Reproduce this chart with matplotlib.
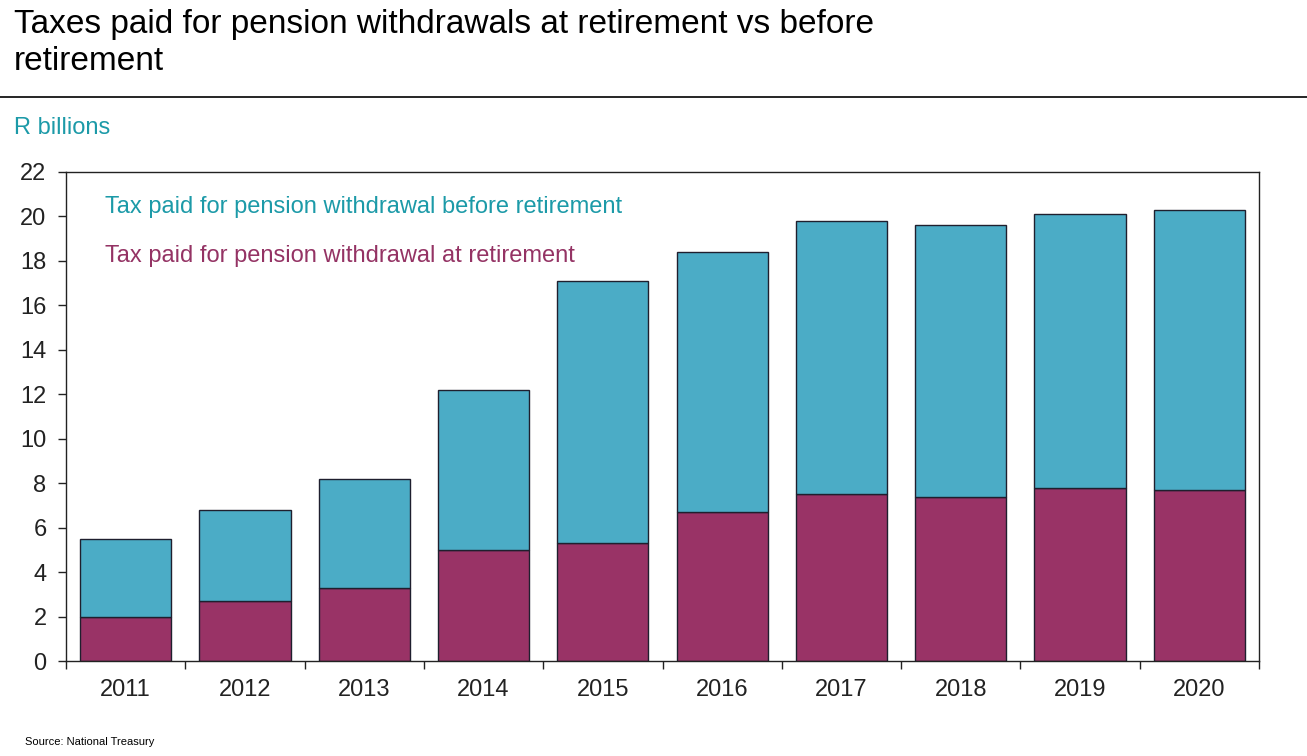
import numpy as np
import matplotlib.pyplot as plt

years = ['2011', '2012', '2013', '2014', '2015', '2016', '2017', '2018', '2019', '2020']
at_retirement = [2.0, 2.7, 3.3, 5.0, 5.3, 6.7, 7.5, 7.4, 7.8, 7.7]
total = [5.5, 6.8, 8.2, 12.2, 17.1, 18.4, 19.8, 19.6, 20.1, 20.3]
before_retirement = [t - a for t, a in zip(total, at_retirement)]

teal_bar = '#4bacc6'
maroon = '#993366'
teal_txt = '#1c9aa8'
maroon_txt = '#943364'
edge = '#1f1f2e'

plt.rcParams['font.family'] = ['Liberation Sans', 'DejaVu Sans']

fig = plt.figure(figsize=(13.07, 7.56), dpi=100)
ax = fig.add_axes([66 / 1307, 1 - 661 / 756, (1259 - 66) / 1307, (661 - 172) / 756])

x = np.arange(len(years))
w = 0.765
ax.bar(x, at_retirement, w, color=maroon, edgecolor=edge, linewidth=1)
ax.bar(x, before_retirement, w, bottom=at_retirement, color=teal_bar, edgecolor=edge, linewidth=1)

ax.set_xlim(-0.5, len(years) - 0.5)
ax.set_ylim(0, 22)
ax.set_yticks(np.arange(0, 23, 2))
# tick marks sit between the categories, labels in the middle
ax.set_xticks(np.arange(-0.5, len(years), 1))
ax.set_xticklabels([])
ax.set_xticks(x, minor=True)
ax.set_xticklabels(years, minor=True)
ax.tick_params(axis='x', which='major', direction='out', length=6, width=1, color='#222222')
ax.tick_params(axis='x', which='minor', length=0, pad=13, labelsize=17, labelcolor='#222222')
ax.tick_params(axis='y', direction='out', length=6, width=1, pad=8, labelsize=17,
               labelcolor='#222222', color='#222222')
for s in ax.spines.values():
    s.set_color('#222222')
    s.set_linewidth(1)

ax.text(0.0327, 0.928, 'Tax paid for pension withdrawal before retirement', transform=ax.transAxes,
        fontsize=17, color=teal_txt, va='center', ha='left')
ax.text(0.0327, 0.828, 'Tax paid for pension withdrawal at retirement', transform=ax.transAxes,
        fontsize=17, color=maroon_txt, va='center', ha='left')

fig.text(14 / 1307, 1 - 25 / 756, 'Taxes paid for pension withdrawals at retirement vs before',
         fontsize=24, va='center', ha='left', color='black')
fig.text(14 / 1307, 1 - 62 / 756, 'retirement', fontsize=24, va='center', ha='left', color='black')
fig.add_artist(plt.Line2D([0, 1], [1 - 97 / 756, 1 - 97 / 756], color='black', linewidth=1.2,
                          transform=fig.transFigure))
fig.text(14 / 1307, 1 - 128 / 756, 'R billions', fontsize=17, va='center', ha='left', color=teal_txt)
fig.text(25 / 1307, 1 - 742 / 756, 'Source: National Treasury', fontsize=8, va='center', ha='left',
         color='black')

fig.savefig('out.png', dpi=100)
